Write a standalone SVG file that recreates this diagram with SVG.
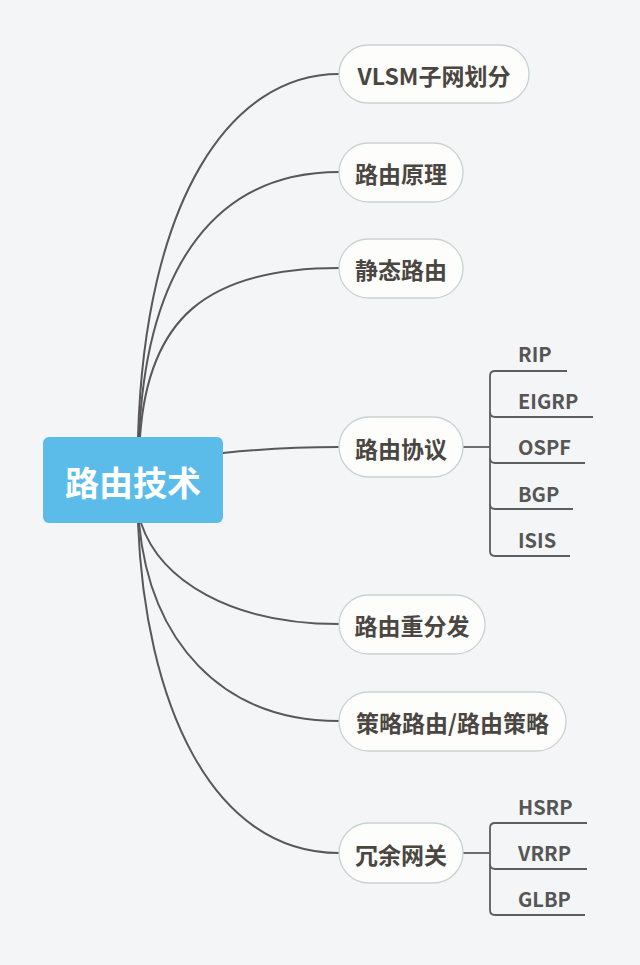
<svg xmlns="http://www.w3.org/2000/svg" width="640" height="965" viewBox="0 0 640 965">
<style>
.bg{fill:#f4f5f6}
.pill{fill:#fdfdfb;stroke:#c9d2d2;stroke-width:1.3}
.lbl{font-family:"Noto Sans CJK SC","Noto Sans",sans-serif;font-weight:bold;font-size:23px;fill:#4b4641;text-anchor:middle}
.sub{font-family:"Noto Sans CJK SC","Noto Sans",sans-serif;font-weight:bold;font-size:20px;fill:#565656}
.root{font-family:"Noto Sans CJK SC",sans-serif;font-weight:bold;font-size:34px;fill:#ffffff;text-anchor:middle}
.edge{fill:none;stroke:#585858;stroke-width:2;stroke-linecap:round}
.br{fill:none;stroke:#5e5e5e;stroke-width:1.8}
</style>
<rect class="bg" x="0" y="0" width="640" height="965"/>
<g id="connectors">
<path class="edge" d="M138,437 C145,200 230,74 339,74"/>
<path class="edge" d="M139,437 C147,260 220,172 339,172"/>
<path class="edge" d="M140,437 C148,320 205,268 339,268"/>
<path class="edge" d="M223,453 C270,448 300,447 339,447"/>
<path class="edge" d="M141,523 C160,580 230,624 339,624"/>
<path class="edge" d="M139,523 C150,640 220,721 339,721"/>
<path class="edge" d="M138,523 C145,700 210,853 339,853"/>
<path class="br" d="M463,447 H490"/>
<path class="br" d="M567,371 H495 Q490,371 490,376 V551 Q490,556 495,556 H570"/>
<path class="br" d="M490,412 Q490,417 495,417 H593"/>
<path class="br" d="M490,458 Q490,463 495,463 H585"/>
<path class="br" d="M490,504 Q490,509 495,509 H573"/>
<path class="br" d="M463,853 H490"/>
<path class="br" d="M587,823 H495 Q490,823 490,828 V910 Q490,915 495,915 H585"/>
<path class="br" d="M490,864 Q490,869 495,869 H587"/>
</g>
<g id="root">
<rect x="43" y="437" width="180" height="86" rx="6" fill="#5bbcea"/>
<text class="root" x="133" y="496">路由技术</text>
</g>
<g id="n-vlsm">
<rect class="pill" x="339" y="45" width="190" height="58" rx="29"/>
<text class="lbl" x="434" y="85">VLSM子网划分</text>
</g>
<g id="n-principle">
<rect class="pill" x="339" y="143" width="124" height="59" rx="29.5"/>
<text class="lbl" x="401" y="183">路由原理</text>
</g>
<g id="n-static">
<rect class="pill" x="339" y="239" width="124" height="59" rx="29.5"/>
<text class="lbl" x="401" y="279">静态路由</text>
</g>
<g id="n-protocol">
<rect class="pill" x="339" y="417" width="124" height="60" rx="30"/>
<text class="lbl" x="401" y="458">路由协议</text>
</g>
<g id="s-rip"><text class="sub" x="518" y="362">RIP</text></g>
<g id="s-eigrp"><text class="sub" x="518" y="409">EIGRP</text></g>
<g id="s-ospf"><text class="sub" x="518" y="455">OSPF</text></g>
<g id="s-bgp"><text class="sub" x="518" y="502">BGP</text></g>
<g id="s-isis"><text class="sub" x="518" y="548">ISIS</text></g>
<g id="n-redis">
<rect class="pill" x="339" y="595" width="146" height="59" rx="29.5"/>
<text class="lbl" x="412" y="635">路由重分发</text>
</g>
<g id="n-policy">
<rect class="pill" x="339" y="692" width="227" height="59" rx="29.5"/>
<text class="lbl" x="452.5" y="732">策略路由/路由策略</text>
</g>
<g id="n-redund">
<rect class="pill" x="339" y="823" width="124" height="60" rx="30"/>
<text class="lbl" x="401" y="864">冗余网关</text>
</g>
<g id="s-hsrp"><text class="sub" x="518" y="815">HSRP</text></g>
<g id="s-vrrp"><text class="sub" x="518" y="861">VRRP</text></g>
<g id="s-glbp"><text class="sub" x="518" y="907">GLBP</text></g>
</svg>
